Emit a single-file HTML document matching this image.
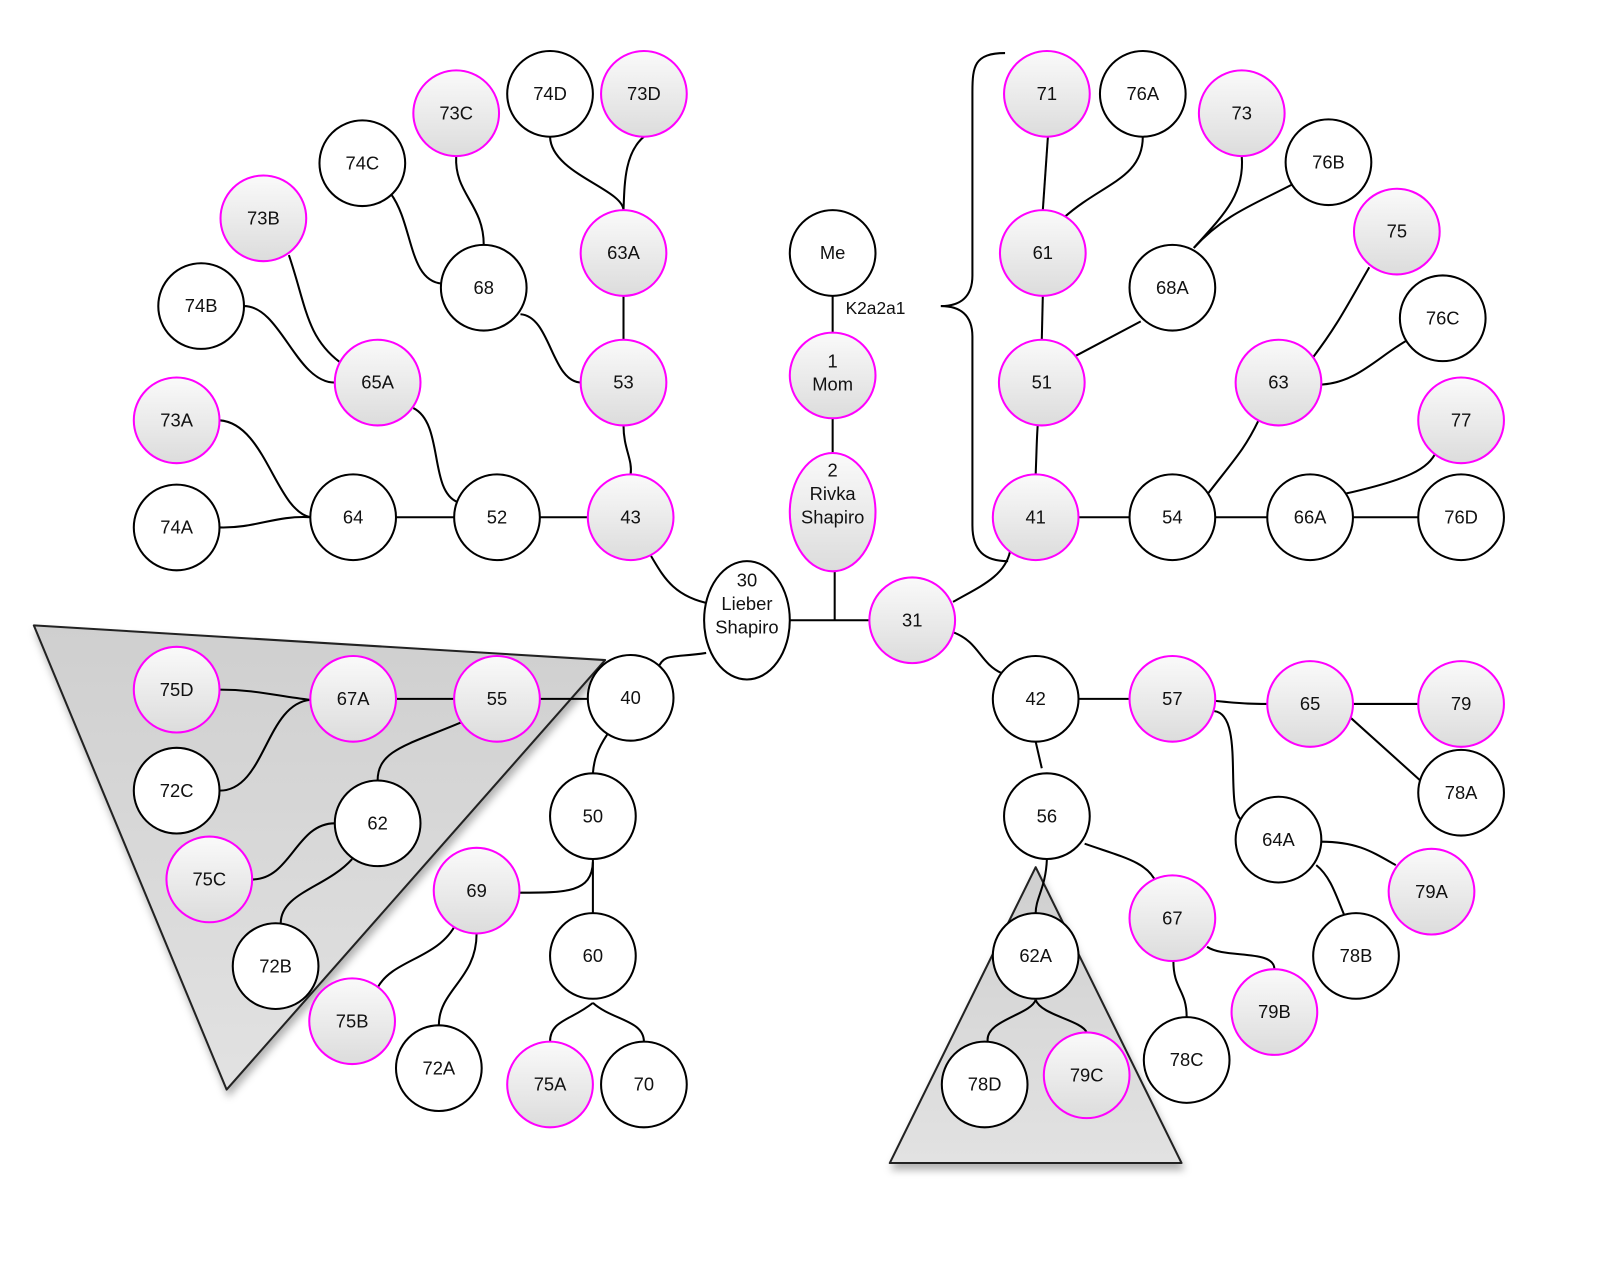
<!DOCTYPE html>
<html><head><meta charset="utf-8"><style>
html,body{margin:0;padding:0;background:#fff;}
svg{display:block;}
text{font-family:"Liberation Sans",sans-serif;font-size:18px;fill:#111;text-anchor:middle;}
</style></head><body>
<svg width="1600" height="1262" viewBox="0 0 1568 1237" xmlns="http://www.w3.org/2000/svg">
<defs>
<linearGradient id="pg" x1="0" y1="0" x2="0" y2="1"><stop offset="0" stop-color="#fafafa"/><stop offset="1" stop-color="#dcdcdc"/></linearGradient>
<linearGradient id="tg" x1="0" y1="0" x2="0" y2="1"><stop offset="0" stop-color="#cfcfcf"/><stop offset="1" stop-color="#e2e2e2"/></linearGradient>
<filter id="sh" x="-10%" y="-10%" width="130%" height="130%"><feDropShadow dx="2" dy="6" stdDeviation="4" flood-color="#000" flood-opacity="0.3"/></filter>
</defs>
<g stroke="#222" stroke-width="2" stroke-linejoin="round" filter="url(#sh)">
<polygon points="33,613 593,647 222,1068" fill="url(#tg)"/>
<polygon points="1015,850 872,1140 1158,1140" fill="url(#tg)"/>
</g>
<g fill="none" stroke="#000" stroke-width="2">
<path d="M985,52 C955,52 953,65 953,90 L953,270 C953,292 940,300 922,300 C940,300 953,308 953,330 L953,515 C953,540 965,550 988,550"/>
<path d="M816,290 L816,326"/><path d="M816,410 L816,444"/><path d="M818,560 L818,608"/><path d="M774,608 L852,608"/>
<path d="M697,592 C660,585 650,565 638,545"/><path d="M692,640 C660,645 650,640 645,655"/>
<path d="M529,507 L576,507"/><path d="M611,417 C611,440 620,450 618,465"/><path d="M388,507 L445,507"/>
<path d="M448,492 C420,480 435,415 405,400"/>
<path d="M304,507 C270,500 260,415 215,412"/><path d="M304,507 C270,505 250,518 215,517"/>
<path d="M328,375 C290,375 275,300 239,300"/><path d="M333,355 C300,330 300,300 283,250"/>
<path d="M570,375 C540,375 540,310 510,308"/><path d="M611,333 L611,290"/>
<path d="M433,278 C400,275 405,220 383,190"/><path d="M474,240 C474,200 445,190 447,153"/>
<path d="M611,206 C610,185 540,170 539,134"/><path d="M611,206 C612,180 612,150 631,134"/>
<path d="M529,685 L576,685"/><path d="M388,685 L445,685"/>
<path d="M304,686 C270,682 250,676 215,676"/><path d="M304,686 C260,690 260,775 215,775"/>
<path d="M452,708 C400,730 370,735 370,765"/><path d="M328,807 C290,807 285,862 247,862"/>
<path d="M345,842 C320,870 275,875 275,905"/>
<path d="M595,720 C585,735 582,745 581,758"/><path d="M581,842 L581,895"/><path d="M581,845 C580,875 555,875 509,875"/>
<path d="M447,905 C430,940 385,940 370,968"/><path d="M467,915 C467,960 430,970 430,1005"/>
<path d="M581,983 C560,1000 539,1000 539,1021"/><path d="M581,983 C600,1000 631,1000 631,1021"/>
<path d="M934,590 C960,575 985,565 990,540"/><path d="M935,620 C960,630 960,650 982,660"/>
<path d="M1057,507 L1107,507"/><path d="M1015,465 C1016,440 1016,430 1017,417"/><path d="M1021,333 L1022,290"/>
<path d="M1052,350 L1118,315"/><path d="M1022,206 L1027,134"/><path d="M1043,213 C1080,180 1120,175 1120,134"/>
<path d="M1170,243 C1200,210 1220,190 1217,153"/><path d="M1170,243 C1200,210 1230,200 1268,180"/>
<path d="M1191,507 L1242,507"/><path d="M1183,485 C1210,450 1220,440 1233,413"/>
<path d="M1287,350 C1310,320 1320,300 1342,262"/><path d="M1295,377 C1330,375 1350,350 1380,333"/>
<path d="M1326,507 L1390,507"/><path d="M1318,484 C1380,470 1400,460 1408,442"/>
<path d="M1057,685 L1107,685"/><path d="M1015,727 L1021,753"/>
<path d="M1191,687 C1220,690 1230,690 1242,690"/><path d="M1326,690 L1390,690"/><path d="M1322,702 L1392,765"/>
<path d="M1190,697 C1220,700 1200,790 1216,803"/><path d="M1295,825 C1330,825 1345,835 1368,848"/>
<path d="M1290,848 C1305,860 1310,880 1320,903"/>
<path d="M1026,842 C1025,870 1015,880 1015,895"/><path d="M1063,827 C1100,840 1125,845 1133,865"/>
<path d="M1183,928 C1200,940 1249,930 1249,950"/><path d="M1150,942 C1150,970 1163,970 1163,997"/>
<path d="M1015,980 C1010,995 965,1000 968,1021"/><path d="M1015,980 C1020,995 1060,1000 1065,1012"/>
</g>
<g stroke-width="2">
<g fill="url(#pg)" stroke="#f0f">
<circle cx="816" cy="368" r="42"/><ellipse cx="816" cy="502" rx="42" ry="58"/><circle cx="894" cy="608" r="42"/>
<circle cx="618" cy="507" r="42"/><circle cx="173" cy="412" r="42"/><circle cx="370" cy="375" r="42"/>
<circle cx="258" cy="214" r="42"/><circle cx="611" cy="375" r="42"/><circle cx="447" cy="111" r="42"/>
<circle cx="611" cy="248" r="42"/><circle cx="631" cy="92" r="42"/><circle cx="487" cy="685" r="42"/>
<circle cx="346" cy="685" r="42"/><circle cx="173" cy="676" r="42"/><circle cx="205" cy="862" r="42"/>
<circle cx="467" cy="873" r="42"/><circle cx="345" cy="1001" r="42"/><circle cx="539" cy="1063" r="42"/>
<circle cx="1015" cy="507" r="42"/><circle cx="1021" cy="375" r="42"/><circle cx="1022" cy="248" r="42"/>
<circle cx="1026" cy="92" r="42"/><circle cx="1217" cy="111" r="42"/><circle cx="1432" cy="412" r="42"/>
<circle cx="1253" cy="375" r="42"/><circle cx="1369" cy="227" r="42"/><circle cx="1149" cy="685" r="42"/>
<circle cx="1284" cy="690" r="42"/><circle cx="1432" cy="690" r="42"/><circle cx="1403" cy="874" r="42"/>
<circle cx="1149" cy="900" r="42"/><circle cx="1249" cy="992" r="42"/><circle cx="1065" cy="1054" r="42"/>
</g>
<g fill="#fff" stroke="#000">
<circle cx="816" cy="248" r="42"/><ellipse cx="732" cy="608" rx="42" ry="58"/>
<circle cx="487" cy="507" r="42"/><circle cx="346" cy="507" r="42"/><circle cx="173" cy="517" r="42"/>
<circle cx="197" cy="300" r="42"/><circle cx="474" cy="282" r="42"/><circle cx="355" cy="160" r="42"/>
<circle cx="539" cy="92" r="42"/><circle cx="618" cy="684" r="42"/><circle cx="173" cy="775" r="42"/>
<circle cx="370" cy="807" r="42"/><circle cx="270" cy="947" r="42"/><circle cx="581" cy="800" r="42"/>
<circle cx="430" cy="1047" r="42"/><circle cx="581" cy="937" r="42"/><circle cx="631" cy="1063" r="42"/>
<circle cx="1120" cy="92" r="42"/><circle cx="1149" cy="282" r="42"/><circle cx="1302" cy="159" r="42"/>
<circle cx="1149" cy="507" r="42"/><circle cx="1284" cy="507" r="42"/><circle cx="1432" cy="507" r="42"/>
<circle cx="1414" cy="312" r="42"/><circle cx="1015" cy="685" r="42"/><circle cx="1432" cy="777" r="42"/>
<circle cx="1253" cy="823" r="42"/><circle cx="1329" cy="937" r="42"/><circle cx="1026" cy="800" r="42"/>
<circle cx="1163" cy="1039" r="42"/><circle cx="1015" cy="937" r="42"/><circle cx="965" cy="1063" r="42"/>
</g>
</g>
<g>
<text x="816" y="254">Me</text>
<text x="816" y="360">1</text><text x="816" y="383">Mom</text>
<text x="816" y="467">2</text><text x="816" y="490">Rivka</text><text x="816" y="513">Shapiro</text>
<text x="732" y="575">30</text><text x="732" y="598">Lieber</text><text x="732" y="621">Shapiro</text>
<text x="858" y="308" style="font-size:17px">K2a2a1</text>
<text x="894" y="614">31</text><text x="618" y="513">43</text><text x="487" y="513">52</text><text x="346" y="513">64</text>
<text x="173" y="523">74A</text><text x="173" y="418">73A</text><text x="370" y="381">65A</text><text x="197" y="306">74B</text>
<text x="258" y="220">73B</text><text x="611" y="381">53</text><text x="474" y="288">68</text><text x="355" y="166">74C</text>
<text x="447" y="117">73C</text><text x="611" y="254">63A</text><text x="539" y="98">74D</text><text x="631" y="98">73D</text>
<text x="618" y="690">40</text><text x="487" y="691">55</text><text x="346" y="691">67A</text><text x="173" y="682">75D</text>
<text x="173" y="781">72C</text><text x="370" y="813">62</text><text x="205" y="868">75C</text><text x="270" y="953">72B</text>
<text x="581" y="806">50</text><text x="467" y="879">69</text><text x="345" y="1007">75B</text><text x="430" y="1053">72A</text>
<text x="581" y="943">60</text><text x="539" y="1069">75A</text><text x="631" y="1069">70</text>
<text x="1015" y="513">41</text><text x="1021" y="381">51</text><text x="1022" y="254">61</text><text x="1026" y="98">71</text>
<text x="1120" y="98">76A</text><text x="1149" y="288">68A</text><text x="1217" y="117">73</text><text x="1302" y="165">76B</text>
<text x="1149" y="513">54</text><text x="1284" y="513">66A</text><text x="1432" y="513">76D</text><text x="1432" y="418">77</text>
<text x="1253" y="381">63</text><text x="1369" y="233">75</text><text x="1414" y="318">76C</text>
<text x="1015" y="691">42</text><text x="1149" y="691">57</text><text x="1284" y="696">65</text><text x="1432" y="696">79</text>
<text x="1432" y="783">78A</text><text x="1253" y="829">64A</text><text x="1403" y="880">79A</text><text x="1329" y="943">78B</text>
<text x="1026" y="806">56</text><text x="1149" y="906">67</text><text x="1249" y="998">79B</text><text x="1163" y="1045">78C</text>
<text x="1015" y="943">62A</text><text x="965" y="1069">78D</text><text x="1065" y="1060">79C</text>
</g>
</svg>
</body></html>
